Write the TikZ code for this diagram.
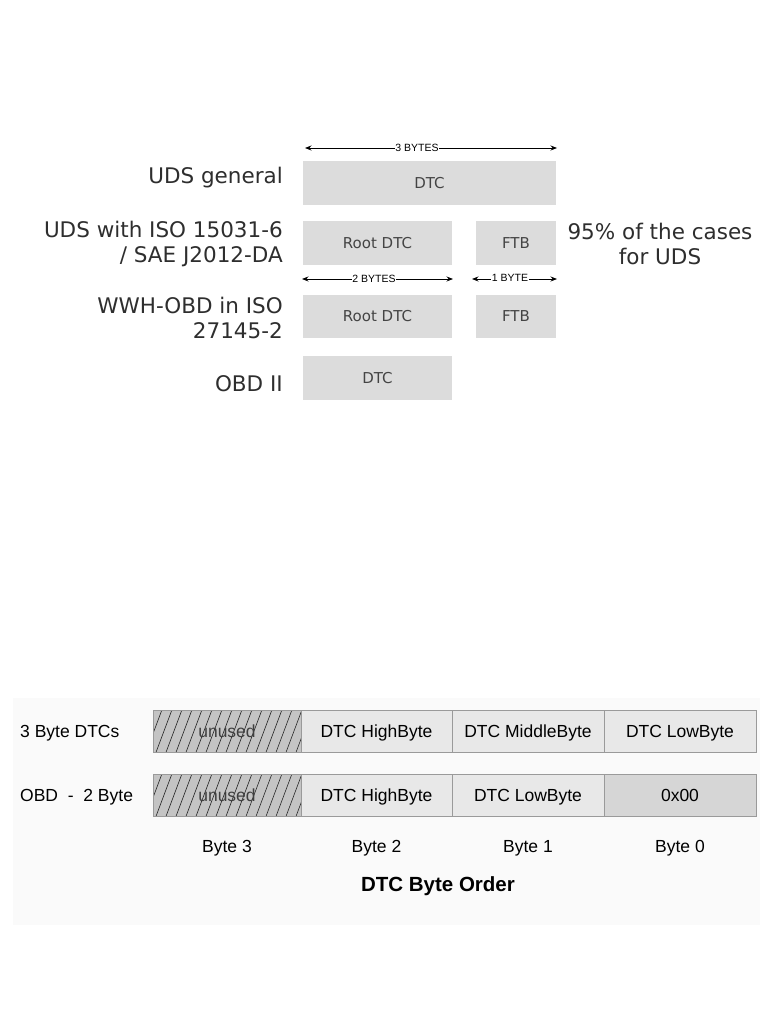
\documentclass[tikz,border=0pt]{standalone}
\usepackage{fontspec}
\setmainfont{Liberation Sans}
\newfontfamily\vfont{DejaVu Sans}
\usetikzlibrary{arrows.meta}
\definecolor{topbox}{HTML}{DCDCDC}
\definecolor{toptext}{HTML}{2E2E2E}
\definecolor{boxtext}{HTML}{444444}
\definecolor{cellfill}{HTML}{E8E8E8}
\definecolor{zerofill}{HTML}{D6D6D6}
\definecolor{unusedfill}{HTML}{C4C4C4}
\definecolor{cellline}{HTML}{9A9A9A}
\definecolor{panel}{HTML}{FAFAFA}
\tikzset{
  topbx/.style={fill=topbox, draw=none, inner sep=0pt, outer sep=0pt, minimum height=44pt,
    font=\vfont\fontsize{15}{17}\selectfont, text=boxtext},
  rowlbl/.style={anchor=east, align=right, inner sep=0pt, text=toptext,
    font=\vfont\fontsize{21.5}{25}\selectfont},
  dimarrow/.style={{Stealth[length=6.5pt,width=5pt]}-{Stealth[length=6.5pt,width=5pt]}, line width=0.8pt, black},
  dimlbl/.style={fill=white, inner sep=0.5pt, font=\fontsize{10.5}{12}\selectfont},
  cell/.style={draw=cellline, line width=0.8pt, fill=cellfill, minimum width=152pt, minimum height=42pt,
    inner sep=0pt, outer sep=0pt, text height=12.5pt, text depth=0pt, font=\fontsize{17.5}{20}\selectfont},
  blbl/.style={inner sep=0pt, text height=12.5pt, text depth=0pt, font=\fontsize{17.5}{20}\selectfont},
}
\begin{document}
\begin{tikzpicture}[x=1pt,y=-1pt]
\useasboundingbox (0,0) rectangle (768,1024);
\fill[white] (0,0) rectangle (768,1024);
% ---------- top diagram ----------
\node[topbx, minimum width=253pt] (b1) at (429.5,183) {DTC};
\node[topbx, minimum width=149pt] (b2r) at (377.5,243) {Root DTC};
\node[topbx, minimum width=80pt] (b2f) at (516,243) {FTB};
\node[topbx, minimum width=149pt, minimum height=43pt] (b3r) at (377.5,316.5) {Root DTC};
\node[topbx, minimum width=80pt, minimum height=43pt] (b3f) at (516,316.5) {FTB};
\node[topbx, minimum width=149pt] (b4) at (377.5,378) {DTC};

\node[rowlbl] (l1) at (283,178) {UDS general};
\node[rowlbl] (l2) at (283,244) {UDS with ISO 15031-6\\/ SAE J2012-DA};
\node[rowlbl] (l3) at (283,318) {WWH-OBD in ISO\\27145-2};
\node[rowlbl] (l4) at (283,384) {OBD II};
\node[align=center, inner sep=0pt, text=toptext, font=\vfont\fontsize{21.5}{25}\selectfont] (note) at (660,244) {95\% of the cases\\for UDS};

\coordinate (a3l) at (305,148); \coordinate (a3r) at (557,148);
\draw[dimarrow] (a3l) -- (a3r);
\node[dimlbl] (t3) at (417,148) {3 BYTES};
\coordinate (a2l) at (302,279); \coordinate (a2r) at (453,279);
\draw[dimarrow] (a2l) -- (a2r);
\node[dimlbl] (t2) at (374,279) {2 BYTES};
\coordinate (a1l) at (472,279); \coordinate (a1r) at (557,279);
\draw[dimarrow] (a1l) -- (a1r);
\node[dimlbl] (t1) at (510,278) {1 BYTE};

% ---------- bottom diagram ----------
\fill[panel] (13,698) rectangle (760,925);
% row 1
\node[cell, minimum width=148pt, fill=unusedfill] (u1) at (227,731) {};
\begin{scope}
  \clip (153,710) rectangle (301,752);
  \foreach \i in {0,...,19} { \draw[line width=0.6pt, black!85] ({135+10*\i},755) -- ({153+10*\i},707); }
\end{scope}
\draw[draw=cellline, line width=0.8pt] (u1.south west) rectangle (u1.north east);
\node[blbl, text=black!75] (u1t) at (227,731) {unused};
\node[cell, minimum width=151pt] (c12) at (376.5,731) {DTC HighByte};
\node[cell, minimum width=152pt] (c11) at (528,731) {DTC MiddleByte};
\node[cell, minimum width=152pt] (c10) at (680,731) {DTC LowByte};
% row 2
\node[cell, minimum width=148pt, fill=unusedfill] (u2) at (227,795) {};
\begin{scope}
  \clip (153,774) rectangle (301,816);
  \foreach \i in {0,...,19} { \draw[line width=0.6pt, black!85] ({135+10*\i},819) -- ({153+10*\i},771); }
\end{scope}
\draw[draw=cellline, line width=0.8pt] (u2.south west) rectangle (u2.north east);
\node[blbl, text=black!75] (u2t) at (227,795) {unused};
\node[cell, minimum width=151pt] (c22) at (376.5,795) {DTC HighByte};
\node[cell, minimum width=152pt] (c21) at (528,795) {DTC LowByte};
\node[cell, minimum width=152pt, fill=zerofill] (c20) at (680,795) {0x00};

\node[blbl, anchor=west] (r1) at (20,731) {3 Byte DTCs};
\node[blbl, anchor=west] (r2) at (20,795) {OBD\ \ -\ \ 2 Byte};

\node[blbl] (by3) at (227,846) {Byte 3};
\node[blbl] (by2) at (376.5,846) {Byte 2};
\node[blbl] (by1) at (528,846) {Byte 1};
\node[blbl] (by0) at (680,846) {Byte 0};
\node[inner sep=0pt, font=\bfseries\fontsize{20.5}{24}\selectfont] (title) at (438,886) {DTC Byte Order};
\end{tikzpicture}
\end{document}
